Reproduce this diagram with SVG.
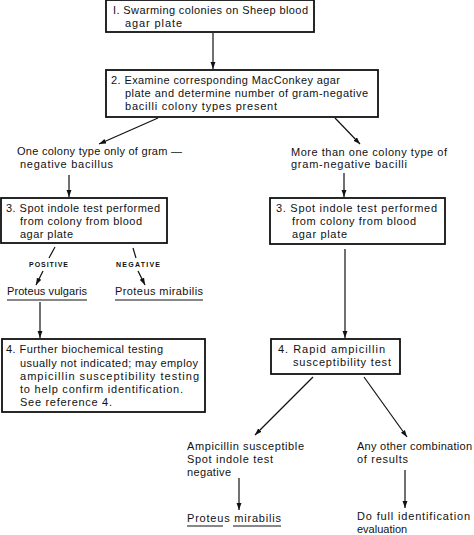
<svg xmlns="http://www.w3.org/2000/svg" width="474" height="535" viewBox="0 0 474 535">
<style>
text{font-family:"Liberation Sans","DejaVu Sans",sans-serif;font-size:11px;fill:#111}
.box{fill:#fff;stroke:#111;stroke-width:1.8}
.ln{stroke:#111;stroke-width:1.2;fill:none}
.arr{marker-end:url(#ah)}
.sm{font-size:7px;font-weight:bold}
.ul{stroke:#111;stroke-width:1}
</style>
<defs>
<marker id="ah" viewBox="0 0 10 10" refX="10" refY="5" markerWidth="7" markerHeight="7" markerUnits="userSpaceOnUse" orient="auto">
<path d="M0,1.5 L10,5 L0,8.5 Z" fill="#111"/>
</marker>
</defs>
<rect width="474" height="535" fill="#fff"/>
<g id="connectors">
<line class="ln arr" x1="213" y1="33" x2="213" y2="69"/>
<line class="ln arr" x1="158" y1="118" x2="99" y2="144"/>
<line class="ln arr" x1="335" y1="118" x2="360" y2="144"/>
<line class="ln arr" x1="69" y1="175" x2="69" y2="197"/>
<line class="ln arr" x1="344" y1="173" x2="344" y2="197"/>
<line class="ln" x1="55" y1="247" x2="49" y2="258"/>
<line class="ln arr" x1="43" y1="271" x2="36" y2="285"/>
<line class="ln" x1="133" y1="248" x2="136" y2="258"/>
<line class="ln arr" x1="138" y1="271" x2="145" y2="285"/>
<line class="ln arr" x1="40" y1="302" x2="40" y2="338"/>
<line class="ln arr" x1="345" y1="249" x2="345" y2="338"/>
<line class="ln arr" x1="313" y1="377" x2="255" y2="435"/>
<line class="ln arr" x1="364" y1="377" x2="407" y2="437"/>
<line class="ln arr" x1="239" y1="478" x2="239" y2="510"/>
<line class="ln arr" x1="405" y1="470" x2="405" y2="508"/>
</g>
<g id="n1">
<rect class="box" x="106" y="0" width="208" height="32"/>
<text x="113" y="14" textLength="195" lengthAdjust="spacing">I. Swarming colonies on Sheep blood</text>
<text x="125" y="27" textLength="57" lengthAdjust="spacing">agar plate</text>
</g>
<g id="n2">
<rect class="box" x="106" y="70" width="272" height="47"/>
<text x="111" y="84" textLength="229" lengthAdjust="spacing">2. Examine corresponding MacConkey agar</text>
<text x="125" y="97" textLength="243" lengthAdjust="spacing">plate and determine number of gram-negative</text>
<text x="125" y="110" textLength="152" lengthAdjust="spacing">bacilli colony types present</text>
</g>
<g id="t-one">
<text x="17" y="155" textLength="165" lengthAdjust="spacing">One colony type only of gram —</text>
<text x="20" y="168" textLength="93" lengthAdjust="spacing">negative bacillus</text>
</g>
<g id="t-more">
<text x="291" y="156" textLength="156" lengthAdjust="spacing">More than one colony type of</text>
<text x="291" y="168" textLength="116" lengthAdjust="spacing">gram-negative bacilli</text>
</g>
<g id="n3l">
<rect class="box" x="1" y="198" width="166" height="45"/>
<text x="6" y="212" textLength="154" lengthAdjust="spacing">3. Spot indole test performed</text>
<text x="20" y="225" textLength="122" lengthAdjust="spacing">from colony from blood</text>
<text x="20" y="238" textLength="53" lengthAdjust="spacing">agar plate</text>
</g>
<g id="n3r">
<rect class="box" x="270" y="198" width="175" height="46"/>
<text x="276" y="212" textLength="161" lengthAdjust="spacing">3. Spot indole test performed</text>
<text x="292" y="225" textLength="124" lengthAdjust="spacing">from colony from blood</text>
<text x="292" y="238" textLength="55" lengthAdjust="spacing">agar plate</text>
</g>
<g id="labels-pn">
<text class="sm" x="29" y="267" textLength="39" lengthAdjust="spacing">POSITIVE</text>
<text class="sm" x="116" y="267" textLength="44" lengthAdjust="spacing">NEGATIVE</text>
</g>
<g id="t-vulgaris">
<text x="7" y="295" textLength="80" lengthAdjust="spacing">Proteus vulgaris</text>
<line class="ul" x1="7" y1="300" x2="87" y2="300"/>
</g>
<g id="t-mirabilis1">
<text x="115" y="295" textLength="88" lengthAdjust="spacing">Proteus mirabilis</text>
<line class="ul" x1="115" y1="300" x2="203" y2="300"/>
</g>
<g id="n4l">
<rect class="box" x="2" y="339" width="203" height="73"/>
<text x="6" y="353" textLength="157" lengthAdjust="spacing">4. Further biochemical testing</text>
<text x="20" y="367" textLength="178" lengthAdjust="spacing">usually not indicated; may employ</text>
<text x="20" y="380" textLength="179" lengthAdjust="spacing">ampicillin susceptibility testing</text>
<text x="20" y="393" textLength="163" lengthAdjust="spacing">to help confirm identification.</text>
<text x="20" y="406" textLength="92" lengthAdjust="spacing">See reference 4.</text>
</g>
<g id="n4r">
<rect class="box" x="271" y="339" width="129" height="35"/>
<text x="278" y="353" textLength="107" lengthAdjust="spacing">4. Rapid ampicillin</text>
<text x="293" y="366" textLength="98" lengthAdjust="spacing">susceptibility test</text>
</g>
<g id="t-amp">
<text x="187" y="450" textLength="117" lengthAdjust="spacing">Ampicillin susceptible</text>
<text x="187" y="463" textLength="86" lengthAdjust="spacing">Spot indole test</text>
<text x="187" y="476" textLength="44" lengthAdjust="spacing">negative</text>
</g>
<g id="t-mirabilis2">
<text x="187" y="522" textLength="94" lengthAdjust="spacing">Proteus mirabilis</text>
<line class="ul" x1="187" y1="526" x2="223" y2="526"/>
<line class="ul" x1="233" y1="526" x2="281" y2="526"/>
</g>
<g id="t-any">
<text x="357" y="450" textLength="115" lengthAdjust="spacing">Any other combination</text>
<text x="357" y="463" textLength="51" lengthAdjust="spacing">of results</text>
</g>
<g id="t-full">
<text x="357" y="520" textLength="113" lengthAdjust="spacing">Do full identification</text>
<text x="357" y="533">evaluation</text>
</g>
</svg>
